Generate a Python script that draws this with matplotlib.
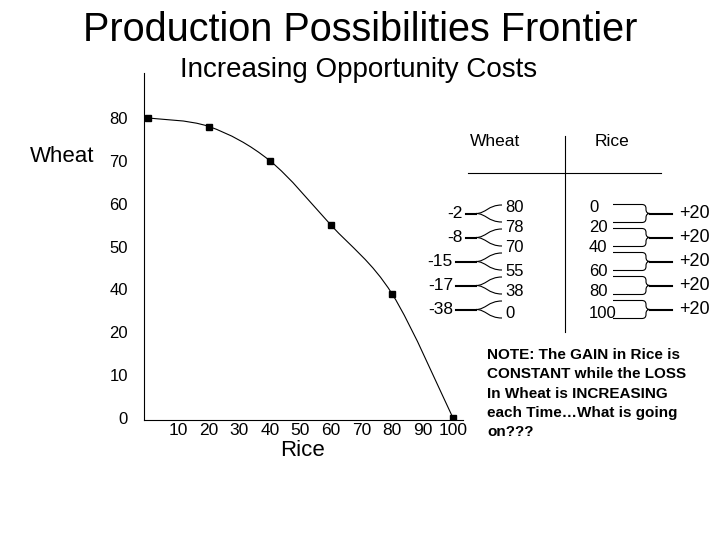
import matplotlib
matplotlib.use("Agg")
import matplotlib.pyplot as plt
import numpy as np
from matplotlib.path import Path
from matplotlib.patches import PathPatch

plt.rcParams['font.family'] = ['Liberation Sans', 'DejaVu Sans']

# data from the slide
rice = np.array([0, 20, 40, 60, 80, 100])
wheat = np.array([80, 78, 70, 55, 38, 0])
y_tick_values = [0, 10, 20, 40, 50, 60, 70, 80]
x_tick_values = [10, 20, 30, 40, 50, 60, 70, 80, 90, 100]
note_lines = ["NOTE: The GAIN in Rice is",
              "CONSTANT while the LOSS",
              "In Wheat is INCREASING",
              "each Time\u2026What is going",
              "on???"]

wheat_loss = np.diff(wheat)
rice_gain = np.diff(rice)

# the y labels on the slide are evenly spaced although the values are not
slot_vals = [-100] + y_tick_values + [180]
slot_pos = [-10] + list(range(len(y_tick_values))) + [17]


def fwd(v):
    return np.interp(v, slot_vals, slot_pos)


def inv(s):
    return np.interp(s, slot_pos, slot_vals)


def smooth_path(xs, ys):
    # catmull-rom through the points (done in the warped y space)
    pts = np.column_stack([xs, fwd(ys)]).astype(float)
    ext = np.vstack([pts[0], pts, pts[-1]])
    verts = [pts[0]]
    codes = [Path.MOVETO]
    for i in range(1, len(ext) - 2):
        p0, p1, p2, p3 = ext[i - 1], ext[i], ext[i + 1], ext[i + 2]
        verts += [p1 + (p2 - p0) / 6, p2 - (p3 - p1) / 6, p2]
        codes += [Path.CURVE4] * 3
    verts = np.array(verts)
    verts[:, 1] = inv(verts[:, 1])
    return Path(verts, codes)


fig = plt.figure(figsize=(7.2, 5.4), dpi=100)

# overlay in pixel units for the slide text and the table
ov = fig.add_axes([0, 0, 1, 1], zorder=-1)
ov.set_xlim(0, 720)
ov.set_ylim(540, 0)
ov.axis('off')

ax = fig.add_axes([144 / 720, 120 / 540, 319 / 720, 347 / 540])
ax.patch.set_alpha(0)
ax.set_yscale('function', functions=(fwd, inv))
ax.set_xlim(-1.3, 103.3)
ax.set_ylim(inv(-0.05), inv(8.05))

ax.add_patch(PathPatch(smooth_path(rice, wheat), fill=False, lw=0.8, color='black'))
ax.plot(rice, wheat, 's', color='black', ms=5)

ax.set_xticks(x_tick_values)
ax.set_xticklabels([str(v) for v in x_tick_values], fontsize=12.5)
ax.set_yticks(y_tick_values)
ax.set_yticklabels([str(v) for v in y_tick_values], fontsize=12)
ax.tick_params(axis='x', length=0, pad=2)
ax.tick_params(axis='y', length=0, pad=11.5)
for s in ['top', 'right']:
    ax.spines[s].set_visible(False)
for s in ['left', 'bottom']:
    ax.spines[s].set_linewidth(0.8)

ov.text(360, 30, "Production Possibilities Frontier", fontsize=28.5, ha='center', va='center')
ov.text(359, 70, "Increasing Opportunity Costs", fontsize=20, ha='center', va='center')
ov.text(62, 157, "Wheat", fontsize=16, ha='center', va='center')
ov.text(302, 451, "Rice", fontsize=16, ha='center', va='center')

# table on the right
ov.text(495, 141, "Wheat", fontsize=12.5, ha='center', va='center')
ov.text(612, 141, "Rice", fontsize=12.5, ha='center', va='center')
ov.plot([468, 661], [173, 173], color='black', lw=0.8)
ov.plot([565, 565], [136, 332], color='black', lw=0.8)

rows = [207, 228, 248, 271, 292, 313]
for w, r, y in zip(wheat, rice, rows):
    ov.text(505, y, str(w), fontsize=12, ha='left', va='center')
    ov.text(589, y, str(r), fontsize=12, ha='left', va='center')

for i, (d, g) in enumerate(zip(wheat_loss, rice_gain)):
    c = 213.5 + 24 * i

    # fork from the wheat change to the two wheat values
    xr = 463 if abs(d) < 10 else 453
    ov.text(xr, c, str(d), fontsize=12.5, ha='right', va='center')
    ov.plot([xr + 3, 476], [c, c], color='black', lw=1.5)
    for ye in (c - 8.5, c + 8.5):
        fork = Path([(476, c), (486, c), (488, ye), (502, ye)],
                    [Path.MOVETO, Path.CURVE4, Path.CURVE4, Path.CURVE4])
        ov.add_patch(PathPatch(fork, fill=False, lw=0.8, color='black'))

    # brace from the two rice values to the gain
    top, bot, xl, xv, r = c - 9, c + 9, 613, 646, 4
    brace = Path([(xl, top), (xv - r, top), (xv, top), (xv, top + r),
                  (xv, c - r), (xv, c), (xv + r, c),
                  (xv, c), (xv, c + r), (xv, bot - r), (xv, bot), (xv - r, bot),
                  (xl, bot)],
                 [Path.MOVETO, Path.LINETO, Path.CURVE3, Path.CURVE3,
                  Path.LINETO, Path.CURVE3, Path.CURVE3,
                  Path.CURVE3, Path.CURVE3, Path.LINETO, Path.CURVE3, Path.CURVE3,
                  Path.LINETO])
    ov.add_patch(PathPatch(brace, fill=False, lw=0.8, color='black'))
    ov.plot([xv + r, 672], [c, c], color='black', lw=1.5)
    ov.text(679, c, "+%d" % g, fontsize=13, ha='left', va='center')

for i, line in enumerate(note_lines):
    ov.text(487, 355 + 19.3 * i, line, fontsize=11, fontweight='bold', ha='left', va='center')

plt.savefig('out.png', dpi=100)
